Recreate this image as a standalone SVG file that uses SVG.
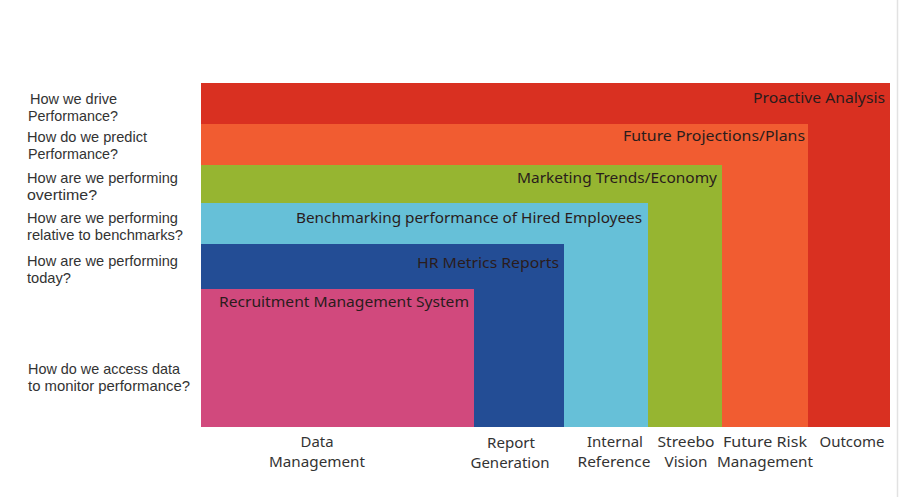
<svg xmlns="http://www.w3.org/2000/svg" width="901" height="497" viewBox="0 0 901 497">
<style>
text{font-family:"Noto Sans","Open Sans","DejaVu Sans",sans-serif;font-size:14.5px}
.q{fill:#333;font-size:14.5px;font-family:"Liberation Sans",Arial,sans-serif}
.in{fill:#2a1c1c;text-anchor:end}
.ax{fill:#333;text-anchor:middle}
</style>
<rect width="901" height="497" fill="#fff"/>
<line x1="897.5" y1="0" x2="897.5" y2="497" stroke="#e2e2e2" stroke-width="1.5"/>

<g id="proactive">
<rect x="201" y="83" width="689" height="344" fill="#D93021"/>
<text class="in" x="885" y="103" textLength="132" lengthAdjust="spacingAndGlyphs">Proactive Analysis</text>
</g>
<g id="future">
<rect x="201" y="124" width="607" height="303" fill="#F15C31"/>
<text class="in" x="805" y="141" textLength="182" lengthAdjust="spacingAndGlyphs">Future Projections/Plans</text>
</g>
<g id="marketing">
<rect x="201" y="165" width="521" height="262" fill="#96B531"/>
<text class="in" x="717" y="183" textLength="200" lengthAdjust="spacingAndGlyphs">Marketing Trends/Economy</text>
</g>
<g id="benchmarking">
<rect x="201" y="203" width="447" height="224" fill="#66C0D8"/>
<text class="in" x="642" y="223" textLength="346" lengthAdjust="spacingAndGlyphs">Benchmarking performance of Hired Employees</text>
</g>
<g id="hrmetrics">
<rect x="201" y="244" width="363" height="183" fill="#234D95"/>
<text class="in" x="559" y="268" textLength="142" lengthAdjust="spacingAndGlyphs">HR Metrics Reports</text>
</g>
<g id="recruitment">
<rect x="201" y="289" width="273" height="138" fill="#D1497D"/>
<text class="in" x="469" y="307" textLength="250" lengthAdjust="spacingAndGlyphs">Recruitment Management System</text>
</g>

<g id="questions">
<text class="q" x="30" y="104" textLength="87" lengthAdjust="spacingAndGlyphs">How we drive</text>
<text class="q" x="28" y="121" textLength="90" lengthAdjust="spacingAndGlyphs">Performance?</text>
<text class="q" x="27" y="142" textLength="120" lengthAdjust="spacingAndGlyphs">How do we predict</text>
<text class="q" x="28" y="159" textLength="90" lengthAdjust="spacingAndGlyphs">Performance?</text>
<text class="q" x="27" y="183" textLength="151" lengthAdjust="spacingAndGlyphs">How are we performing</text>
<text class="q" x="27" y="200" textLength="70" lengthAdjust="spacingAndGlyphs">overtime?</text>
<text class="q" x="27" y="223" textLength="151" lengthAdjust="spacingAndGlyphs">How are we performing</text>
<text class="q" x="27" y="240" textLength="156" lengthAdjust="spacingAndGlyphs">relative to benchmarks?</text>
<text class="q" x="27" y="266" textLength="151" lengthAdjust="spacingAndGlyphs">How are we performing</text>
<text class="q" x="27" y="283" textLength="44" lengthAdjust="spacingAndGlyphs">today?</text>
<text class="q" x="28" y="374" textLength="152" lengthAdjust="spacingAndGlyphs">How do we access data</text>
<text class="q" x="28" y="391" textLength="162" lengthAdjust="spacingAndGlyphs">to monitor performance?</text>
</g>

<g id="stages">
<text class="ax" x="317" y="447" textLength="33" lengthAdjust="spacingAndGlyphs">Data</text>
<text class="ax" x="317" y="467" textLength="96" lengthAdjust="spacingAndGlyphs">Management</text>
<text class="ax" x="511" y="448" textLength="48" lengthAdjust="spacingAndGlyphs">Report</text>
<text class="ax" x="510" y="468" textLength="79" lengthAdjust="spacingAndGlyphs">Generation</text>
<text class="ax" x="615" y="447" textLength="56" lengthAdjust="spacingAndGlyphs">Internal</text>
<text class="ax" x="614" y="467" textLength="73" lengthAdjust="spacingAndGlyphs">Reference</text>
<text class="ax" x="686" y="447" textLength="57" lengthAdjust="spacingAndGlyphs">Streebo</text>
<text class="ax" x="686" y="467" textLength="43" lengthAdjust="spacingAndGlyphs">Vision</text>
<text class="ax" x="765" y="447" textLength="84" lengthAdjust="spacingAndGlyphs">Future Risk</text>
<text class="ax" x="765" y="467" textLength="96" lengthAdjust="spacingAndGlyphs">Management</text>
<text class="ax" x="852" y="447" textLength="65" lengthAdjust="spacingAndGlyphs">Outcome</text>
</g>
</svg>
